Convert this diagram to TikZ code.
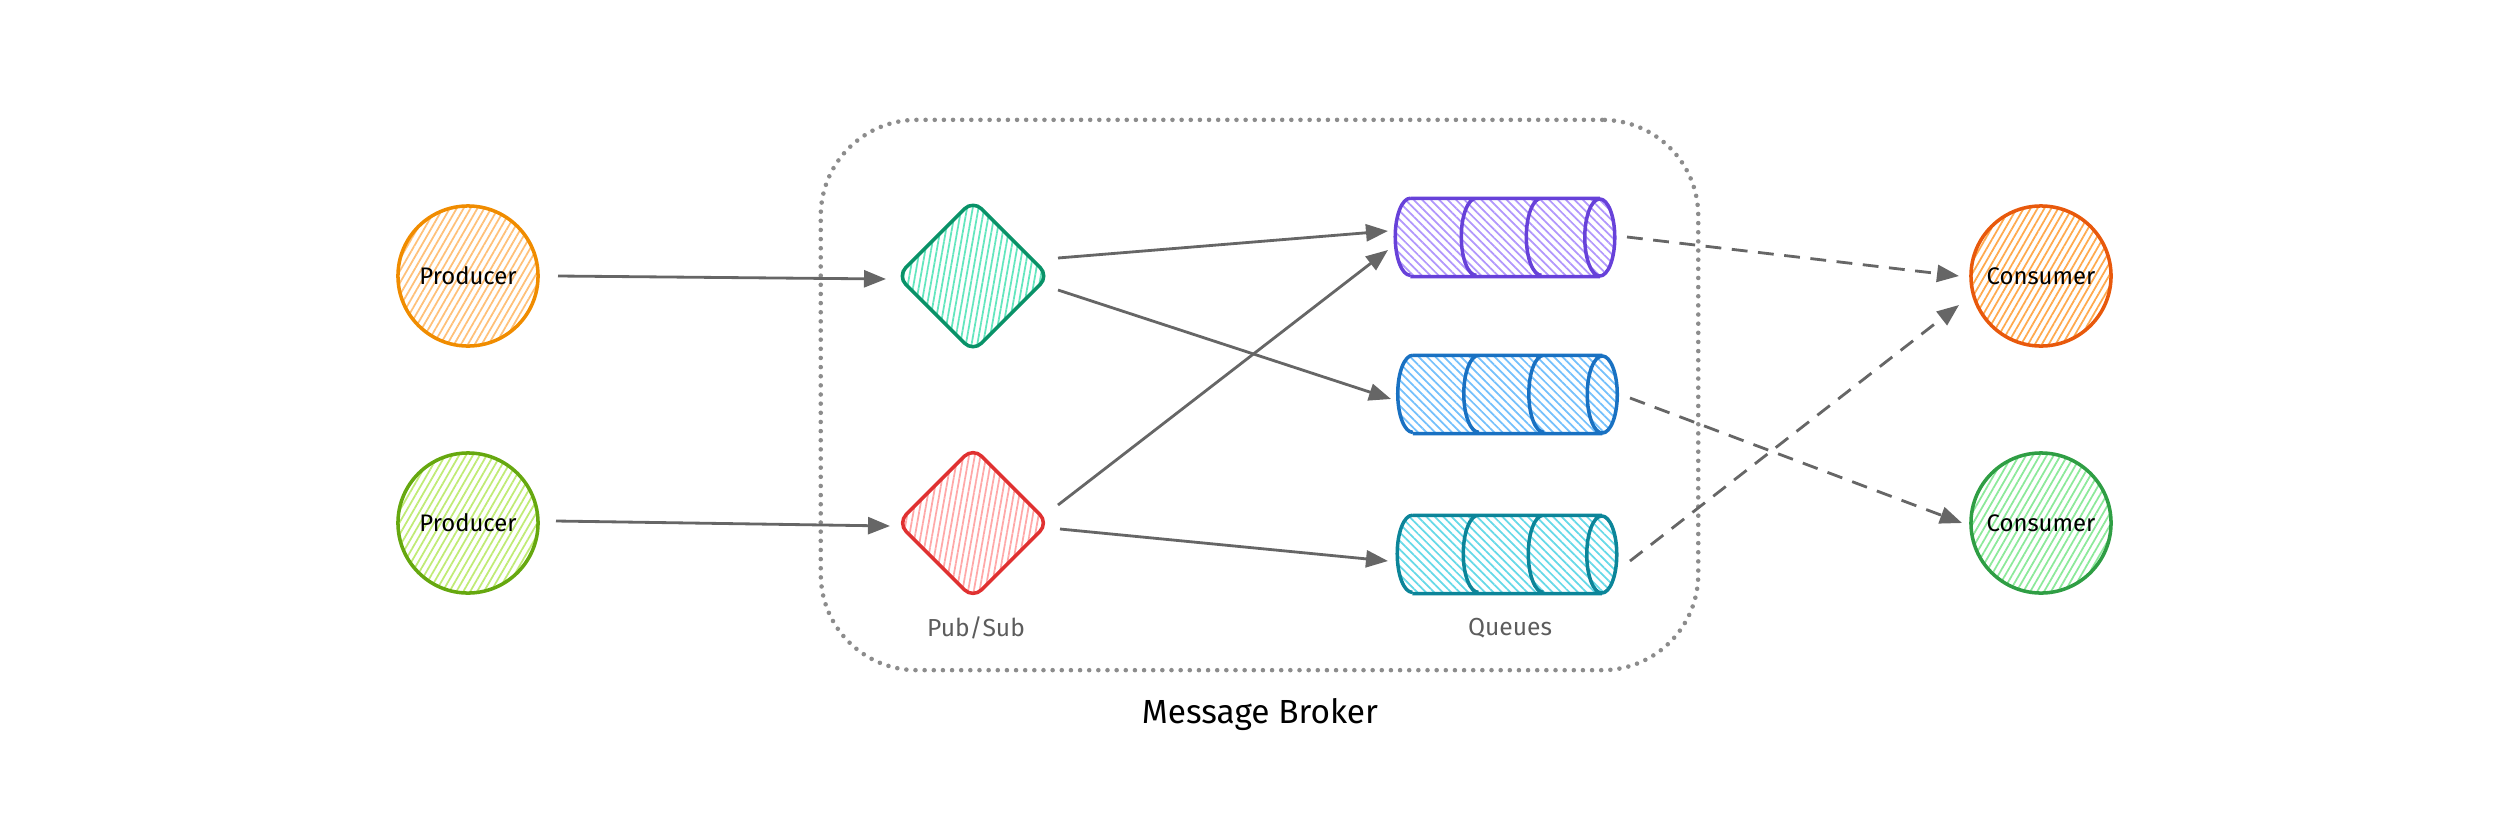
\documentclass[tikz,border=0pt]{standalone}
\usepackage{fontspec}
\setmainfont{Fira Sans}
\usetikzlibrary{shapes.geometric,arrows.meta,patterns.meta}
\definecolor{porS}{HTML}{F08C00}\definecolor{porF}{HTML}{FFC078}
\definecolor{pgrS}{HTML}{66A80F}\definecolor{pgrF}{HTML}{C0EB75}
\definecolor{dgS}{HTML}{099268}\definecolor{dgF}{HTML}{63E6BE}
\definecolor{drS}{HTML}{E03131}\definecolor{drF}{HTML}{FFA8A8}
\definecolor{qpS}{HTML}{6741D9}\definecolor{qpF}{HTML}{B197FC}
\definecolor{qbS}{HTML}{1971C2}\definecolor{qbF}{HTML}{74C0FC}
\definecolor{qtS}{HTML}{0C8599}\definecolor{qtF}{HTML}{66D9E8}
\definecolor{coS}{HTML}{E8590C}\definecolor{coF}{HTML}{FFA94D}
\definecolor{cgS}{HTML}{2F9E44}\definecolor{cgF}{HTML}{8CE99A}
\definecolor{arr}{HTML}{666666}
\definecolor{lbl}{HTML}{5C5C5C}
\tikzset{
  circ/.style n args={2}{circle, minimum size=1.4cm, inner sep=0pt, draw=#1, line width=1pt,
    pattern={Lines[angle=60,distance=1.7pt,line width=0.5pt]}, pattern color=#2,
    font=\fontsize{6.8}{8}\selectfont},
  dia/.style n args={2}{diamond, aspect=1, minimum width=1.52cm, minimum height=1.52cm, inner sep=0pt,
    rounded corners=0.12cm, draw=#1, line width=1pt,
    pattern={Lines[angle=80,distance=1.6pt,line width=0.5pt]}, pattern color=#2},
  qbox/.style={rectangle, minimum width=2.18cm, minimum height=0.77cm, inner sep=0pt},
  conn/.style={draw=arr, line width=0.8pt, -{Triangle[length=0.22cm,width=0.17cm,fill=arr]}},
  dconn/.style={conn, dash pattern=on 4.5pt off 3pt},
  small/.style={text=lbl, font=\fontsize{7}{8}\selectfont},
}
\newcommand\qshape[3]{%
  \path[pattern={Lines[angle=-45,distance=1.7pt,line width=0.5pt]}, pattern color=#3]
    ([xshift=0.15cm]#1.north west) -- ([xshift=-0.15cm]#1.north east)
    arc[start angle=90,end angle=-90,x radius=0.15cm,y radius=0.385cm]
    -- ([xshift=0.15cm]#1.south west)
    arc[start angle=270,end angle=90,x radius=0.15cm,y radius=0.385cm] -- cycle;
  \draw[#2, line width=1pt, line join=round]
    ([xshift=0.15cm]#1.north west) -- ([xshift=-0.15cm]#1.north east)
    ([xshift=0.15cm]#1.south west) -- ([xshift=-0.15cm]#1.south east)
    ([xshift=0.15cm]#1.north west) arc[start angle=90,end angle=270,x radius=0.15cm,y radius=0.385cm]
    ([xshift=0.81cm]#1.north west) arc[start angle=90,end angle=270,x radius=0.15cm,y radius=0.385cm]
    ([xshift=1.46cm]#1.north west) arc[start angle=90,end angle=270,x radius=0.15cm,y radius=0.385cm]
    ([xshift=-0.15cm]#1.east) ellipse[x radius=0.15cm,y radius=0.385cm];
}
\begin{document}
\begin{tikzpicture}[x=0.01cm,y=0.01cm]
\useasboundingbox (0,0) rectangle (2514,832);
% broker container
\node[draw=black!45, line width=1.3pt, dash pattern=on 0pt off 2.6pt, line cap=round,
  rounded corners=0.96cm, minimum width=8.77cm, minimum height=5.5cm, inner sep=0pt]
  (broker) at (1259.5,437) {};
% producers
\node[circ={porS}{porF}] (p1) at (468,556) {Producer};
\node[circ={pgrS}{pgrF}] (p2) at (468,309) {Producer};
% exchanges
\node[dia={dgS}{dgF}] (d1) at (973,556) {};
\node[dia={drS}{drF}] (d2) at (973,309) {};
% queues
\node[qbox] (q1) at (1505,594.5) {};
\node[qbox] (q2) at (1507.5,437.5) {};
\node[qbox] (q3) at (1507,277.5) {};
\qshape{q1}{qpS}{qpF}
\qshape{q2}{qbS}{qbF}
\qshape{q3}{qtS}{qtF}
% consumers
\node[circ={coS}{coF}] (c1) at (2041,556) {Consumer};
\node[circ={cgS}{cgF}] (c2) at (2041,309) {Consumer};
% labels
\node[small] (lps) at (976,204) {Pub/Sub};
\node[small] (lq) at (1510,204) {Queues};
\node[font=\fontsize{9.5}{11}\selectfont] (lmb) at (1260,117) {Message Broker};
% connectors
\draw[conn] ([shift={(90,0)}]p1.center) -- ([shift={(-87,-3)}]d1.center);
\draw[conn] ([shift={(88,2)}]p2.center) -- ([shift={(-83,-3)}]d2.center);
\draw[conn] ([shift={(85,18)}]d1.center) -- ([shift={(-117,6.5)}]q1.center);
\draw[conn] ([shift={(85,-14)}]d1.center) -- ([shift={(-116.5,-4.5)}]q2.center);
\draw[conn] ([shift={(85,18)}]d2.center) -- ([shift={(-117,-12.5)}]q1.center);
\draw[conn] ([shift={(87,-6)}]d2.center) -- ([shift={(-119,-6.5)}]q3.center);
\draw[dconn] ([shift={(122,0.5)}]q1.center) -- ([shift={(-82,0)}]c1.center);
\draw[dconn] ([shift={(122.5,-3.5)}]q2.center) -- ([shift={(-79,0)}]c2.center);
\draw[dconn] ([shift={(123,-6.5)}]q3.center) -- ([shift={(-82,-29)}]c1.center);
\end{tikzpicture}
\end{document}
